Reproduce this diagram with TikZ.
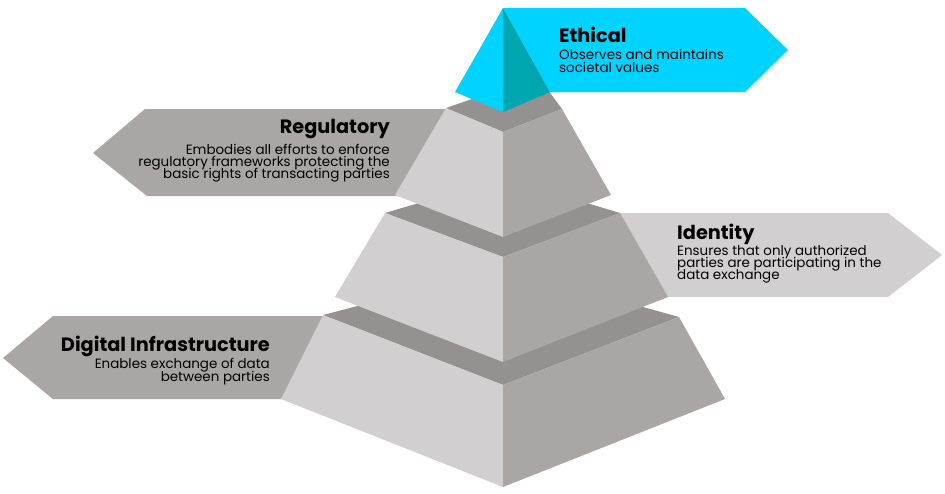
\documentclass[tikz,border=0pt]{standalone}
\usepackage{fontspec}
\setmainfont{Poppins}
\definecolor{cyanL}{HTML}{00D3FF}
\definecolor{cyanD}{HTML}{00A6B0}
\definecolor{grayL}{HTML}{D1CFD0}
\definecolor{grayM}{HTML}{A9A6A5}
\definecolor{grayD}{HTML}{959190}
\tikzset{
  ttl/.style={inner sep=0pt, font=\fontsize{19.3}{20}\selectfont\bfseries, text=black},
  bdy/.style={inner sep=0pt, font=\fontsize{13.45}{13}\selectfont, text=black},
}
\begin{document}
\begin{tikzpicture}[x=1pt,y=-1pt]
\useasboundingbox (0,0) rectangle (945,493);
% banners behind the pyramid
\fill[grayM] (93,153) -- (145,109) -- (460,109) -- (460,196) -- (147,196) -- cycle;
\fill[grayM] (3,358) -- (53,316) -- (335,316) -- (295,399) -- (53,399) -- cycle;
\fill[grayL] (600,213) -- (888,213) -- (942,255) -- (888,297) -- (650,297) -- cycle;
% level 4
\fill[grayD] (323,315) -- (503,268) -- (679,317) -- (503,385) -- cycle;
\fill[grayL] (323,315) -- (503,385) -- (503,487) -- (281,399) -- cycle;
\fill[grayM] (679,317) -- (503,385) -- (503,487) -- (725,399) -- cycle;
% level 3
\fill[grayD] (385,213) -- (503,178) -- (620,213) -- (503,257) -- cycle;
\fill[grayL] (385,213) -- (503,257) -- (503,362) -- (335,297) -- cycle;
\fill[grayM] (620,213) -- (503,257) -- (503,362) -- (668,297) -- cycle;
% level 2
\fill[grayD] (446,108) -- (472,99) -- (548,90) -- (562,109) -- (503,132) -- cycle;
\fill[grayL] (446,108) -- (503,132) -- (503,237) -- (395,195) -- cycle;
\fill[grayM] (562,109) -- (503,132) -- (503,237) -- (611,195) -- cycle;
% level 1 (cyan)
\fill[cyanL] (503,8) -- (745,8) -- (788,50) -- (745,92) -- (550,92) -- cycle;
\fill[cyanL] (503,8) -- (455,92) -- (503,112) -- cycle;
\fill[cyanD] (503,8) -- (550,92) -- (503,112) -- cycle;
% texts
\node[ttl, anchor=base west] (eT) at (559,42) {Ethical};
\node[bdy, anchor=base west] (eB1) at (559,59) {Observes and maintains};
\node[bdy, anchor=base west] (eB2) at (559,72) {societal values};
\node[ttl, anchor=base east] (rT) at (390,133) {Regulatory};
\node[bdy, anchor=base east] (rB1) at (390,154.5) {Embodies all efforts to enforce};
\node[bdy, anchor=base east] (rB2) at (390,166.5) {regulatory frameworks protecting the};
\node[bdy, anchor=base east] (rB3) at (390,178.5) {basic rights of transacting parties};
\node[ttl, anchor=base west] (iT) at (677,239) {Identity};
\node[bdy, anchor=base west] (iB1) at (677,255) {Ensures that only authorized};
\node[bdy, anchor=base west] (iB2) at (677,267) {parties are participating in the};
\node[bdy, anchor=base west] (iB3) at (677,279) {data exchange};
\node[ttl, anchor=base east] (dT) at (270,351) {Digital Infrastructure};
\node[bdy, anchor=base east] (dB1) at (270,368) {Enables exchange of data};
\node[bdy, anchor=base east] (dB2) at (270,381) {between parties};
\end{tikzpicture}
\end{document}
